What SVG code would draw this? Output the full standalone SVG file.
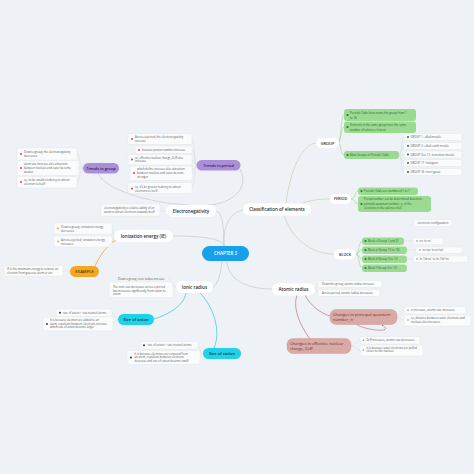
<svg xmlns="http://www.w3.org/2000/svg" width="474" height="474" viewBox="0 0 474 474">
<defs>
<style>
.lf{font-family:"Open Sans","Liberation Sans",sans-serif;font-size:2.8px;fill:#555}
.mn{font-family:"Open Sans","Liberation Sans",sans-serif;font-size:4.5px;font-weight:600;fill:#2a2a2a;text-anchor:middle}
.box{fill:#ffffff;fill-opacity:.65;stroke:#dde2e7;stroke-width:.4}
.wp{fill:#ffffff}
.c{fill:none;stroke:#c6cdd3;stroke-width:.8}
.cl{fill:none;stroke:#d3d8de;stroke-width:.5}
.cg{fill:none;stroke:#cfd3bd;stroke-width:.8}
.gb{fill:none;stroke:#92cf8a;stroke-width:.55}
.gp{fill:#9bda91}
.gt{fill:#2b5a2b}
.bg{fill:#2e6e3e}
.pk{fill:#d63a78}
.or{fill:#f0a020}
.nv{fill:#2c3e50}
.gr{fill:#8a8f94}
</style>
<marker id="arr" viewBox="0 0 6 6" refX="5" refY="3" markerWidth="3" markerHeight="3" orient="auto"><path d="M0,0L6,3L0,6z" fill="#a23a3a"/></marker>
</defs>
<rect width="474" height="474" fill="#eef2f6"/>

<g id="connectors">
<path class="c" d="M224,246 C222,225 232,211 244,210"/>
<path class="c" d="M224,246 C224,225 222,211 215,211"/>
<path class="c" d="M224,246 C222,238 200,236 173,236"/>
<path class="c" d="M222,262 C220,280 215,287 213,287"/>
<path class="c" d="M227,262 C229,282 250,289 272,289"/>
<path class="c" d="M208,205 C232,204 250,188 240,169"/>
<path class="c" d="M98,173 C105,190 150,203 188,205"/>
<path class="cl" d="M167,211 L160,211"/>
<path class="cl" d="M83,168 C80,168 80,154 77,154 M83,168 L79,168 M83,168 C80,168 80,182 77,182"/>
<path class="cl" d="M197,165 C194,165 195,139 192,139 M197,165 C194,165 195,150 192,150 M197,165 C194,165 194,160 192,160 M197,165 C194,165 194,173 192,173 M197,165 C194,165 195,188 192,188"/>
<path class="cl" d="M114,236 C113,236 113,229 112,229 M114,236 C113,236 113,242 112,242"/>
<path fill="none" stroke="#f0a020" stroke-width=".75" d="M95,266 C100,255 108,244 116,240"/>
<path class="cl" d="M70,271 L63,271"/>
<path fill="none" stroke="#3cc8d8" stroke-width=".75" d="M186,293 C184,305 170,314 154,319"/>
<path fill="none" stroke="#3cc8d8" stroke-width=".75" d="M200,293 C212,305 222,330 214,348"/>
<path class="cl" d="M176,287 C172,287 172,279 169,279 M176,287 L173,289"/>
<path class="cl" d="M118,320 C115,320 115,313 112,313 M118,320 C115,320 115,323 113,323"/>
<path class="cl" d="M203,354 C200,354 200,346 198,346 M203,354 C201,354 201,357 200,357"/>
<path class="cl" d="M315,289 C317,289 316,284 318,284 M315,289 C317,289 316,293 318,293"/>
<path fill="none" stroke="#b77a78" stroke-width=".75" d="M305,295 C310,305 320,313 330,316"/>
<path fill="none" stroke="#b77a78" stroke-width=".75" d="M297,295 C292,310 302,328 310,339"/>
<path class="cl" d="M397,317 C400,317 401,310 404,310 M397,317 C400,317 401,320 404,320"/>
<path class="cl" d="M351,346 C355,346 356,340 360,340 M351,346 C355,346 356,350 360,350"/>
<path fill="none" stroke="#a23a3a" stroke-width=".45" marker-end="url(#arr)" d="M356,324 C366,331 396,333 382,325"/>
<path class="cg" d="M286,204 C290,170 302,144 316,143"/>
<path class="cg" d="M300,204 C310,200 320,199 330,199"/>
<path class="cg" d="M284,215 C292,240 312,254 334,254"/>
<path class="gb" d="M338,143 C341,143 341,115 344,115 M338,143 C341,143 341,127 344,127 M338,143 C341,143 341,155 344,155"/>
<path class="cl" d="M399,155 C402,155 401,137 404,137 M399,155 C402,155 401,146 404,146 M399,155 L404,154.5 M399,155 C402,155 401,163 404,163 M399,155 C402,155 401,172 404,172"/>
<path class="gb" d="M351,199 C355,199 355,191 358,191 M351,199 C355,199 355,204 358,204"/>
<path class="gb" d="M356,254 C359,254 359,241 362,241 M356,254 C359,254 359,250 362,250 M356,254 C359,254 359,259 362,259 M356,254 C359,254 359,268 362,268"/>
<path class="cl" d="M404,241 L413,241 M407,250 L416,250 M407,259 L413,259"/>
</g>

<g id="chapter3">
<rect x="202" y="246" width="47" height="15" rx="7.5" fill="#18a0ea"/>
<text x="225.5" y="255.4" class="mn" style="fill:#fff;font-size:4.4px">CHAPTER 3</text>
</g>

<g id="classification">
<rect x="243" y="203.5" width="68" height="12" rx="6" class="wp"/>
<text x="277" y="211.1" class="mn">Classification of elements</text>
</g>

<g id="group">
<rect x="316" y="138" width="23" height="10" rx="5" class="wp"/>
<text x="327.5" y="144.6" class="mn" style="font-size:3.9px">GROUP</text>
</g>
<g id="group-leaves">
<rect x="344" y="109" width="72" height="12" rx="3" class="gp"/>
<circle cx="347.5" cy="115" r="1.1" class="bg"/>
<text class="lf gt"><tspan x="350" y="114.3">Periodic Table have name the group from 1</tspan><tspan x="350" y="118.5">to 18</tspan></text>
<rect x="344" y="121.5" width="72" height="11.5" rx="3" class="gp"/>
<circle cx="347.5" cy="127" r="1.1" class="bg"/>
<text class="lf gt"><tspan x="350" y="126.4">Elements in the same group have the same</tspan><tspan x="350" y="130.6">number of valence electron</tspan></text>
<rect x="344" y="151" width="55" height="8" rx="3" class="gp"/>
<circle cx="347.5" cy="155" r="1.1" class="bg"/>
<text class="lf gt" x="350" y="156">Main Groups in Periodic Table</text>
</g>
<g id="main-groups">
<rect x="404" y="133.5" width="58" height="7" rx="1.5" class="box"/>
<circle cx="408" cy="137" r="1" class="bg"/>
<text class="lf" x="410.5" y="138">GROUP 1 : alkali metals</text>
<rect x="404" y="142.5" width="58" height="7" rx="1.5" class="box"/>
<circle cx="408" cy="146" r="1" class="bg"/>
<text class="lf" x="410.5" y="147">GROUP 2 : alkali earth metals</text>
<rect x="404" y="151" width="58" height="7" rx="1.5" class="box"/>
<circle cx="408" cy="154.5" r="1" class="bg"/>
<text class="lf" x="410.5" y="155.5">GROUP 3 to 12 : transition metals</text>
<rect x="404" y="159.5" width="58" height="7" rx="1.5" class="box"/>
<circle cx="408" cy="163" r="1" class="bg"/>
<text class="lf" x="410.5" y="164">GROUP 17 : halogens</text>
<rect x="404" y="168.5" width="58" height="7" rx="1.5" class="box"/>
<circle cx="408" cy="172" r="1" class="bg"/>
<text class="lf" x="410.5" y="173">GROUP 18 : inert gases</text>
</g>

<g id="period">
<rect x="330" y="194" width="21" height="10" rx="5" class="wp"/>
<text x="340.5" y="200.4" class="mn" style="font-size:3.7px">PERIOD</text>
</g>
<g id="period-leaves">
<rect x="358" y="187.5" width="60" height="7.5" rx="3" class="gp"/>
<circle cx="361.5" cy="191" r="1.1" class="bg"/>
<text class="lf gt" x="364" y="192">Periodic Table are numbered 1 to 7</text>
<rect x="358" y="196" width="73" height="16" rx="3" class="gp"/>
<circle cx="361.5" cy="204" r="1.1" class="bg"/>
<text class="lf gt"><tspan x="364" y="200.3">Period number can be determined based on</tspan><tspan x="364" y="204.5">principle quantum number, n, of the</tspan><tspan x="364" y="208.7">electrons in the valence shell</tspan></text>
</g>

<g id="block">
<rect x="334" y="249" width="22" height="10.5" rx="5" class="wp"/>
<text x="345" y="255.6" class="mn" style="font-size:3.7px">BLOCK</text>
</g>
<g id="block-leaves">
<rect x="362" y="237.5" width="42" height="7.5" rx="3" class="gp"/>
<circle cx="365.5" cy="241" r="1.1" class="bg"/>
<text class="lf gt" x="368" y="242">Block s (Group 1 and 2)</text>
<rect x="362" y="246.5" width="45" height="7.5" rx="3" class="gp"/>
<circle cx="365.5" cy="250" r="1.1" class="bg"/>
<text class="lf gt" x="368" y="251">Block p (Group 13 to 18)</text>
<rect x="362" y="255.5" width="45" height="7.5" rx="3" class="gp"/>
<circle cx="365.5" cy="259" r="1.1" class="bg"/>
<text class="lf gt" x="368" y="260">Block d (Group 3 to 12)</text>
<rect x="362" y="264.5" width="45" height="7.5" rx="3" class="gp"/>
<circle cx="365.5" cy="268" r="1.1" class="bg"/>
<text class="lf gt" x="368" y="269">Block f (Group 3 to 12)</text>
</g>
<g id="electronic-configuration">
<rect x="414" y="219.5" width="38" height="7" rx="1.5" class="box"/>
<text class="lf" x="433" y="224" style="text-anchor:middle">electronic configuration</text>
<rect x="413" y="238" width="30" height="6.5" rx="1.5" class="box"/>
<circle cx="417" cy="241" r=".8" class="gr"/>
<text class="lf" x="419.5" y="242">ns¹ to ns²</text>
<rect x="416" y="247" width="46" height="6.5" rx="1.5" class="box"/>
<circle cx="420" cy="250" r=".8" class="gr"/>
<text class="lf" x="422.5" y="251">ns²np¹ to ns²np⁶</text>
<rect x="413" y="256" width="55" height="6.5" rx="1.5" class="box"/>
<circle cx="417" cy="259" r=".8" class="gr"/>
<text class="lf" x="419.5" y="260">(n-1)d¹ns² to (n-1)d¹⁰ns²</text>
</g>

<g id="electronegativity">
<rect x="166" y="205" width="50" height="12" rx="6" class="wp"/>
<text x="191" y="212.6" class="mn">Electronegativity</text>
</g>
<g id="electronegativity-leaf">
<rect x="101" y="204" width="59" height="12" rx="1.5" class="box"/>
<text class="lf"><tspan x="104" y="209">electronegativity is relative ability of an</tspan><tspan x="104" y="213.3">atom to attract electrons towards itself</tspan></text>
</g>

<g id="trends-in-group">
<rect x="83" y="163" width="36" height="10.5" rx="5.2" fill="#ab8ed9"/>
<text x="101" y="169.7" class="mn" style="fill:#2f2046;font-size:3.9px">Trends in group</text>
</g>
<g id="trends-in-group-leaves">
<rect x="17" y="148" width="60" height="12" rx="1.5" class="box"/>
<circle cx="21" cy="154" r="1" class="pk"/>
<text class="lf"><tspan x="24" y="153.3">Down a group, the electronegativity</tspan><tspan x="24" y="157.2">decreases</tspan></text>
<rect x="17" y="160.5" width="62" height="15" rx="1.5" class="box"/>
<circle cx="21" cy="168" r="1" class="pk"/>
<text class="lf"><tspan x="24" y="165">atom size increase also attraction</tspan><tspan x="24" y="169">between nucleus and outer become</tspan><tspan x="24" y="173">weaker</tspan></text>
<rect x="17" y="176.5" width="60" height="11.5" rx="1.5" class="box"/>
<circle cx="21" cy="182" r="1" class="pk"/>
<text class="lf"><tspan x="24" y="181.4">so, its be smaller tedency to attract</tspan><tspan x="24" y="185.2">electron to itself</tspan></text>
</g>

<g id="trends-in-period">
<rect x="196.5" y="160" width="44" height="10.5" rx="5.2" fill="#ab8ed9"/>
<text x="218.5" y="166.7" class="mn" style="fill:#2f2046;font-size:3.9px">Trends in period</text>
</g>
<g id="trends-in-period-leaves">
<rect x="128" y="133.5" width="64" height="11" rx="1.5" class="box"/>
<circle cx="132" cy="139" r="1" class="pk"/>
<text class="lf"><tspan x="135" y="138.2">Across a period, the electronegativity</tspan><tspan x="135" y="141.8">increase</tspan></text>
<rect x="135" y="146" width="57" height="7.5" rx="1.5" class="box"/>
<circle cx="139" cy="150" r="1" class="pk"/>
<text class="lf" x="142" y="151.2">because proton number increase</text>
<rect x="128" y="154.5" width="64" height="10.5" rx="1.5" class="box"/>
<circle cx="132" cy="159.5" r="1" class="pk"/>
<text class="lf"><tspan x="135" y="158.8">so, effective nuclear charge, Zeff also</tspan><tspan x="135" y="162.4">increase</tspan></text>
<rect x="130" y="166" width="62" height="14.5" rx="1.5" class="box"/>
<circle cx="134" cy="173" r="1" class="pk"/>
<text class="lf"><tspan x="137" y="170.2">which define increase also attraction</tspan><tspan x="137" y="174.2">between nucleus and outer become</tspan><tspan x="137" y="178.2">stronger</tspan></text>
<rect x="128" y="182.5" width="64" height="11" rx="1.5" class="box"/>
<circle cx="132" cy="188.5" r="1" class="pk"/>
<text class="lf"><tspan x="135" y="187.6">so, it's be greater tedency to attract</tspan><tspan x="135" y="191.6">electrons to itself</tspan></text>
</g>

<g id="ionization-energy">
<rect x="114" y="230" width="59" height="12" rx="6" class="wp"/>
<text x="143.5" y="237.6" class="mn">Ionization energy (IE)</text>
</g>
<g id="ionization-leaves">
<rect x="54" y="223" width="58" height="11" rx="1.5" class="box"/>
<circle cx="58" cy="228.5" r=".9" class="or"/>
<text class="lf"><tspan x="61" y="227.8">Down a group, ionization energy</tspan><tspan x="61" y="231.6">decreases</tspan></text>
<rect x="54" y="236" width="58" height="11" rx="1.5" class="box"/>
<circle cx="58" cy="241.5" r=".9" class="or"/>
<text class="lf"><tspan x="61" y="240.8">Across a period, ionization energy</tspan><tspan x="61" y="244.6">increases</tspan></text>
</g>

<g id="example">
<rect x="70" y="266" width="29" height="11" rx="5.5" fill="#f5a623"/>
<text x="84.5" y="273" class="mn" style="fill:#5b3500;font-size:4.1px">EXAMPLE</text>
</g>
<g id="example-leaf">
<rect x="4" y="265.5" width="59" height="10.5" rx="1.5" class="box"/>
<text class="lf"><tspan x="7" y="270.3">IE is the minimum energy to remove an</tspan><tspan x="7" y="274">electron from gaseous atom or ion</tspan></text>
</g>

<g id="ionic-radius">
<rect x="176" y="281" width="37" height="12" rx="6" class="wp"/>
<text x="194.5" y="288.6" class="mn">Ionic radius</text>
</g>
<g id="ionic-radius-leaves">
<text class="lf" x="118" y="280">Down a group, ionic radius increase</text>
<rect x="109" y="282" width="64" height="15.5" rx="1.5" class="box"/>
<text class="lf"><tspan x="113" y="287.8">The ionic size decreases across a period</tspan><tspan x="113" y="291.6">but increases significantly from cation to</tspan><tspan x="113" y="295.4">anion</tspan></text>
</g>

<g id="size-of-anion">
<rect x="118" y="314" width="36" height="11" rx="5.5" fill="#1fd2ea"/>
<text x="136" y="321" class="mn" style="fill:#10323a;font-size:4.1px">Size of anion</text>
</g>
<g id="anion-leaves">
<rect x="56" y="309" width="56" height="7.5" rx="1.5" class="box"/>
<circle cx="60" cy="312.8" r="1" class="nv"/>
<text class="lf" x="63" y="313.8">size of anion &gt; size neutral atoms</text>
<rect x="43" y="317" width="70" height="14" rx="1.5" class="box"/>
<circle cx="47" cy="324" r="1" class="nv"/>
<text class="lf"><tspan x="50" y="320.8">It is because electron are added to an</tspan><tspan x="50" y="324.6">atom, repulsion between electrons increase</tspan><tspan x="50" y="328.4">which size of anion become larger</tspan></text>
</g>

<g id="size-of-cation">
<rect x="203" y="348" width="38" height="11" rx="5.5" fill="#1fd2ea"/>
<text x="222" y="355" class="mn" style="fill:#10323a;font-size:4.1px">Size of cation</text>
</g>
<g id="cation-leaves">
<rect x="140" y="341.5" width="58" height="7.5" rx="1.5" class="box"/>
<circle cx="144" cy="345.3" r="1" class="nv"/>
<text class="lf" x="147.5" y="346.3">size of cation &lt; size neutral atoms</text>
<rect x="127" y="350.5" width="73" height="14" rx="1.5" class="box"/>
<circle cx="131" cy="357.5" r="1" class="nv"/>
<text class="lf"><tspan x="134.5" y="354.6">It is because electrons are removed from</tspan><tspan x="134.5" y="358.4">an atom, repulsion between electrons</tspan><tspan x="134.5" y="362.2">decrease and size of cation become small</tspan></text>
</g>

<g id="atomic-radius">
<rect x="272" y="283.5" width="43" height="12" rx="6" class="wp"/>
<text x="293.5" y="291.1" class="mn">Atomic radius</text>
</g>
<g id="atomic-radius-leaves">
<rect x="318" y="280.5" width="64" height="7" rx="1.5" class="box"/>
<text class="lf" x="322" y="285">Down the group, atomic radius increase</text>
<rect x="318" y="289.5" width="62" height="7" rx="1.5" class="box"/>
<text class="lf" x="322" y="294">Across period, atomic radius decreases</text>
</g>

<g id="principal-quantum">
<rect x="330" y="309.5" width="67" height="15" rx="6" fill="#d9aaa5" stroke="#c48e8a" stroke-width=".4"/>
<text class="mn" style="fill:#6b2a2a;font-size:4.1px;text-anchor:start;font-weight:400"><tspan x="333" y="316.2">Changes in principal quantum</tspan><tspan x="333" y="321.2">number, n</tspan></text>
</g>
<g id="principal-leaves">
<rect x="404" y="306.5" width="62" height="7.5" rx="1.5" class="box"/>
<circle cx="408" cy="310.3" r=".8" class="gr"/>
<text class="lf" x="411" y="311.3">n increases, atomic size increases</text>
<rect x="404" y="315" width="67" height="11" rx="1.5" class="box"/>
<circle cx="408" cy="320" r=".8" class="gr"/>
<text class="lf"><tspan x="411" y="319">so, distance between outer electrons and</tspan><tspan x="411" y="322.8">nucleus also increases</tspan></text>
</g>

<g id="effective-nuclear-charge">
<rect x="287" y="338.5" width="64" height="15" rx="6" fill="#d9aaa5" stroke="#c48e8a" stroke-width=".4"/>
<text class="mn" style="fill:#6b2a2a;font-size:4.1px;text-anchor:start;font-weight:400"><tspan x="290" y="345.2">Changes in effective nuclear</tspan><tspan x="290" y="350.2">charge, Zeff</tspan></text>
</g>
<g id="zeff-leaves">
<rect x="360" y="336.5" width="60" height="7.5" rx="1.5" class="box"/>
<circle cx="363.5" cy="340.3" r=".8" class="gr"/>
<text class="lf" x="366.5" y="341.3">Zeff increases, atomic size decreases</text>
<rect x="360" y="345" width="63" height="11" rx="1.5" class="box"/>
<circle cx="363.5" cy="350" r=".8" class="gr"/>
<text class="lf"><tspan x="366.5" y="348.6">it is because outer electrons are pulled</tspan><tspan x="366.5" y="352.4">closer to the nucleus</tspan></text>
</g>
</svg>
